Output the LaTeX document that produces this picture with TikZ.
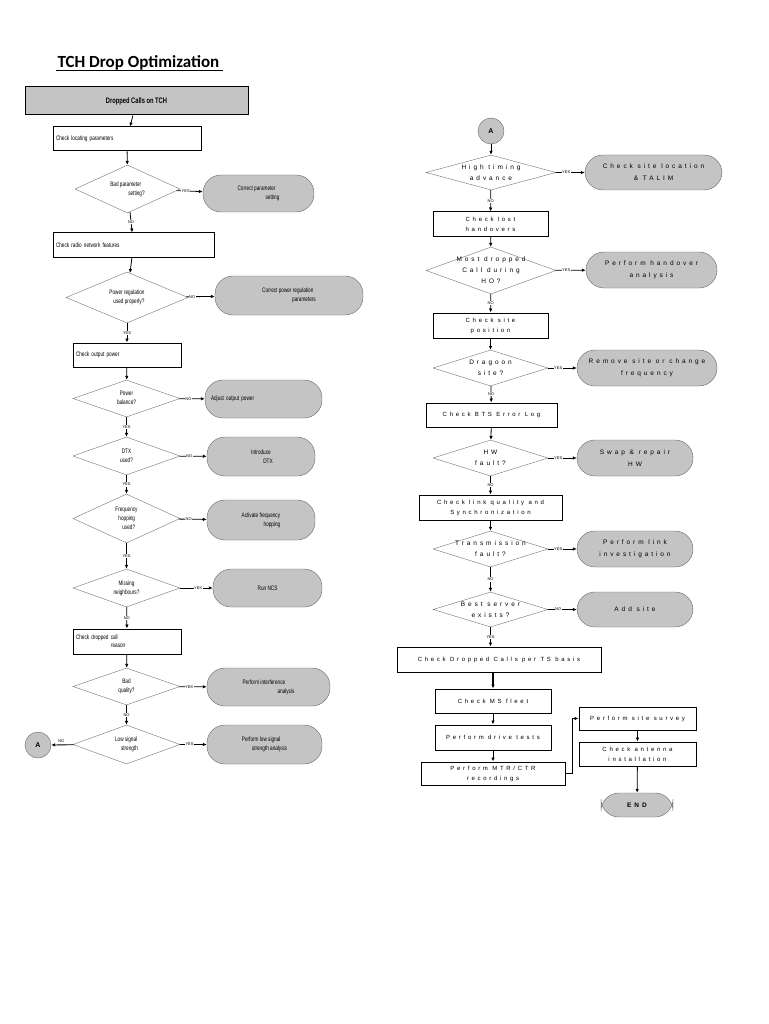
\documentclass[tikz,border=0pt]{standalone}
\usepackage{fontspec}
\setmainfont{Liberation Sans}
\newfontfamily\titlef{Carlito}
\newfontfamily\narrowf{Liberation Sans}[FakeStretch=0.72]
\newfontfamily\spacedf{Liberation Sans}[LetterSpace=45]
\usetikzlibrary{shapes.geometric,arrows.meta}
\definecolor{termgray}{RGB}{196,196,196}

\tikzset{
  box/.style={draw, line width=1pt, inner sep=2pt},
  lbox/.style={box, font=\narrowf\fontsize{6.5}{8}\selectfont, align=left},
  rbox/.style={box, font=\spacedf\fontsize{6}{10}\selectfont, align=center},
  dec/.style={diamond, draw=black!55, inner sep=0pt},
  term/.style={draw=black!60, fill=termgray, rounded corners=18pt, inner sep=2pt},
  lterm/.style={term, font=\narrowf\fontsize{6.5}{9}\selectfont, align=left},
  rterm/.style={term, font=\spacedf\fontsize{6.5}{12}\selectfont, align=center},
  conn/.style={circle, draw=black!60, fill=termgray, minimum size=26pt, inner sep=0pt, font=\bfseries\fontsize{7}{8}\selectfont},
  flow/.style={-{Latex[length=4pt,width=3.5pt]}, line width=.8pt},
  tag/.style={fill=white, inner sep=.6pt, font=\fontsize{4}{4}\selectfont},
}
\newcommand{\lqtext}[1]{\narrowf\fontsize{6.5}{9}\selectfont #1}
\newcommand{\rqtext}[1]{\spacedf\fontsize{6.5}{11}\selectfont #1}

\begin{document}
\begin{tikzpicture}[x=1pt,y=-1pt]
\useasboundingbox (0,0) rectangle (768,1024);
% title
\node[font=\titlef\bfseries\fontsize{17}{20}\selectfont, anchor=west] (title) at (54,63) {TCH Drop Optimization};
\draw[line width=.9pt] (title.south west) ++(2,-3) coordinate (ul) -- (ul -| title.south east);

% left column
\node[box, fill=termgray, minimum width=223pt, minimum height=28pt, font=\narrowf\bfseries\fontsize{8}{9}\selectfont] (head) at (136.5,101) {Dropped Calls on TCH};
\node[lbox, minimum width=148pt, minimum height=24pt, text width=142pt] (b1) at (127,139) {Check locating parameters};
\node[dec, minimum width=105pt, minimum height=48pt, label=center:{\lqtext{\begin{tabular}{l}Bad parameter\\\hspace{18pt}setting?\end{tabular}}}] (d1) at (127.5,189) {};
\node[lterm, minimum width=111pt, minimum height=37pt] (t1) at (258.5,193.5) {Correct parameter\\\hspace{28pt}setting};
\node[lbox, minimum width=161pt, minimum height=24pt, text width=155pt] (b2) at (133.5,245) {Check radio network features};
\node[dec, minimum width=122pt, minimum height=51pt, label=center:{\lqtext{\begin{tabular}{l}Power regulation\\\hspace{4pt}used properly?\end{tabular}}}] (d2) at (127,297.5) {};
\node[lterm, minimum width=148pt, minimum height=39pt] (t2) at (289,295.5) {Correct power regulation\\\hspace{30pt}parameters};
\node[lbox, minimum width=108pt, minimum height=24pt, text width=102pt] (b3) at (127,355) {Check output power};
\node[dec, minimum width=107pt, minimum height=37pt, label=center:{\lqtext{\begin{tabular}{c}Power\\balance?\end{tabular}}}] (d3) at (126.5,398.5) {};
\node[lterm, minimum width=117pt, minimum height=38pt, text width=105pt] (t3) at (263.5,399) {Adjust output power};
\node[dec, minimum width=107pt, minimum height=38pt, label=center:{\lqtext{\begin{tabular}{c}DTX\\used?\end{tabular}}}] (d4) at (126.5,456) {};
\node[lterm, minimum width=108pt, minimum height=39pt, align=center] (t4) at (261,456.5) {Introduce\\\hspace{14pt}DTX};
\node[dec, minimum width=107pt, minimum height=49pt, label=center:{\lqtext{\begin{tabular}{l}Frequency\\\hspace{3pt}hopping\\\hspace{7pt}used?\end{tabular}}}] (d5) at (126.5,518.5) {};
\node[lterm, minimum width=108pt, minimum height=40pt] (t5) at (261,520) {Activate frequency\\\hspace{22pt}hopping};
\node[dec, minimum width=107pt, minimum height=38pt, label=center:{\lqtext{\begin{tabular}{c}Missing\\neighbours?\end{tabular}}}] (d6) at (126.5,588) {};
\node[lterm, minimum width=109pt, minimum height=38pt, align=center] (t6) at (267.5,588) {Run NCS};
\node[lbox, minimum width=108pt, minimum height=25pt, text width=102pt] (b4) at (127,641.5) {Check dropped call\\\hspace{35pt}reason};
\node[dec, minimum width=107pt, minimum height=37pt, label=center:{\lqtext{\begin{tabular}{c}Bad\\quality?\end{tabular}}}] (d7) at (126.5,686.5) {};
\node[lterm, minimum width=123pt, minimum height=38pt] (t7) at (268.5,687) {Perform interference\\\hspace{35pt}analysis};
\node[dec, minimum width=107pt, minimum height=39pt, label=center:{\lqtext{\begin{tabular}{l}Low signal\\\hspace{6pt}strength\end{tabular}}}] (d8) at (126.5,744.5) {};
\node[lterm, minimum width=115pt, minimum height=39pt] (t8) at (264.5,744.5) {Perform low signal\\\hspace{10pt}strength analysis};
\node[conn] (a1) at (38,745) {A};

\draw[flow] (head) -- (b1);
\draw[flow] (b1) -- (d1);
\draw[flow] (d1) -- node[tag, pos=.5] {NO} (b2);
\draw[flow] (b2) -- (d2);
\draw[flow] (d2) -- node[tag, pos=.5] {YES} (b3);
\draw[flow] (b3) -- (d3);
\draw[flow] (d3) -- node[tag, pos=.5] {YES} (d4);
\draw[flow] (d4) -- node[tag, pos=.5] {YES} (d5);
\draw[flow] (d5) -- node[tag, pos=.5] {YES} (d6);
\draw[flow] (d6) -- node[tag, pos=.5] {NO} (b4);
\draw[flow] (b4) -- (d7);
\draw[flow] (d7) -- node[tag, pos=.5] {NO} (d8);
\draw[flow] (d1) -- node[tag, pos=.35] {YES} (t1);
\draw[flow] (d2) -- node[tag, pos=.2] {NO} (t2);
\draw[flow] (d3) -- node[tag, pos=.35] {NO} (t3);
\draw[flow] (d4) -- node[tag, pos=.35] {NO} (t4);
\draw[flow] (d5) -- node[tag, pos=.35] {NO} (t5);
\draw[flow] (d6) -- node[tag, pos=.55] {YES} (t6);
\draw[flow] (d7) -- node[tag, pos=.35] {YES} (t7);
\draw[flow] (d8) -- node[tag, pos=.35] {YES} (t8);
\draw[flow] (d8) -- node[tag, above=1pt, pos=.55, fill=none] {NO} (a1);

% right column
\node[conn] (a2) at (491,131) {A};
\node[dec, minimum width=130pt, minimum height=35pt, label=center:{\rqtext{\begin{tabular}{c}High timing\\advance\end{tabular}}}] (r1) at (491,172.5) {};
\node[rterm, minimum width=137pt, minimum height=35pt] (rt1) at (653.5,172.5) {Check site location\\\& TALIM};
\node[rbox, minimum width=115pt, minimum height=24pt] (rb1) at (490.5,224) {Check lost\\handovers};
\node[dec, minimum width=130pt, minimum height=47pt, label=center:{\rqtext{\begin{tabular}{c}Most dropped\\Call during\\HO?\end{tabular}}}] (r2) at (491,270.5) {};
\node[rterm, minimum width=131pt, minimum height=36pt] (rt2) at (651.5,270) {Perform handover\\analysis};
\node[rbox, minimum width=115pt, minimum height=25pt] (rb2) at (490.5,325.5) {Check site\\position};
\node[dec, minimum width=115pt, minimum height=36pt, label=center:{\rqtext{\begin{tabular}{c}Dragoon\\site?\end{tabular}}}] (r3) at (490.5,368) {};
\node[rterm, minimum width=140pt, minimum height=36pt] (rt3) at (647,368) {Remove site or change\\frequency};
\node[rbox, minimum width=131pt, minimum height=24pt] (rb3) at (491.5,415) {Check BTS Error Log};
\node[dec, minimum width=115pt, minimum height=36pt, label=center:{\rqtext{\begin{tabular}{c}HW\\fault?\end{tabular}}}] (r4) at (490.5,458) {};
\node[rterm, minimum width=116pt, minimum height=36pt] (rt4) at (635,458) {Swap \& repair\\HW};
\node[rbox, minimum width=143pt, minimum height=25pt] (rb4) at (490.5,507.5) {Check link quality and\\Synchronization};
\node[dec, minimum width=115pt, minimum height=36pt, label=center:{\rqtext{\begin{tabular}{c}Transmission\\fault?\end{tabular}}}] (r5) at (490.5,549) {};
\node[rterm, minimum width=116pt, minimum height=36pt] (rt5) at (635,549) {Perform link\\investigation};
\node[dec, minimum width=115pt, minimum height=35pt, label=center:{\rqtext{\begin{tabular}{c}Best server\\exists?\end{tabular}}}] (r6) at (490.5,609.5) {};
\node[rterm, minimum width=116pt, minimum height=35pt] (rt6) at (635,609.5) {Add site};
\node[rbox, minimum width=204pt, minimum height=25pt] (rb5) at (499,659.5) {Check Dropped Calls per TS basis};
\node[rbox, minimum width=116pt, minimum height=24pt] (rb6) at (493,701) {Check MS fleet};
\node[rbox, minimum width=116pt, minimum height=25pt] (rb7) at (493,737.5) {Perform drive tests};
\node[rbox, minimum width=144pt, minimum height=23pt] (rb8) at (493,773.5) {Perform MTR/CTR\\recordings};
\node[rbox, minimum width=117pt, minimum height=23pt] (rb9) at (637.5,718.5) {Perform site survey};
\node[rbox, minimum width=117pt, minimum height=24pt] (rb10) at (637.5,754) {Check antenna\\installation};
\node[rterm, minimum width=72pt, minimum height=24pt, font=\spacedf\bfseries\fontsize{6.5}{8}\selectfont] (rend) at (637,805) {END};

\draw[flow] (a2) -- (r1);
\draw[flow] (r1) -- node[tag, pos=.5] {NO} (rb1);
\draw[flow] (rb1) -- (r2);
\draw[flow] (r2) -- node[tag, pos=.5] {NO} (rb2);
\draw[flow] (rb2) -- (r3);
\draw[flow] (r3) -- node[tag, pos=.5] {NO} (rb3);
\draw[flow] (rb3) -- (r4);
\draw[flow] (r4) -- node[tag, pos=.5] {NO} (rb4);
\draw[flow] (rb4) -- (r5);
\draw[flow] (r5) -- node[tag, pos=.5] {NO} (r6);
\draw[flow] (r6.south) -- node[tag, pos=.5] {YES} (r6.south |- rb5.north);
\draw[flow] (r1) -- node[tag, pos=.35] {YES} (rt1);
\draw[flow] (r2) -- node[tag, pos=.35] {YES} (rt2);
\draw[flow] (r3) -- node[tag, pos=.35] {YES} (rt3);
\draw[flow] (r4) -- node[tag, pos=.35] {YES} (rt4);
\draw[flow] (r5) -- node[tag, pos=.35] {YES} (rt5);
\draw[flow] (r6) -- node[tag, pos=.35] {NO} (rt6);
\draw[flow, line width=1.2pt] (rb5.south -| rb6) -- (rb6);
\draw[flow] (rb6) -- (rb7);
\draw[flow] (rb7) -- (rb8);
\draw[flow] (rb8.east) -- ++(7,0) |- (rb9.west);
\draw[flow] (rb9) -- (rb10);
\draw[flow] (rb10) -- (rend);
\end{tikzpicture}
\end{document}
